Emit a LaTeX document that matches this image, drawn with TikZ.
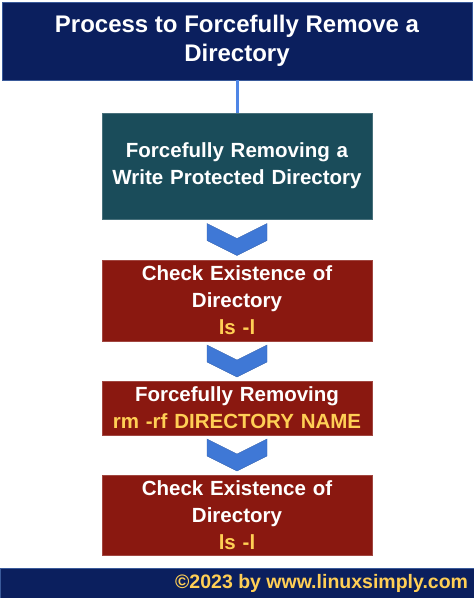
\documentclass[tikz,border=0pt]{standalone}
\usepackage{fontspec}
\setmainfont{Liberation Sans}
\usetikzlibrary{calc, positioning}
\definecolor{navy}{HTML}{0B1F5E}
\definecolor{navyedge}{HTML}{3A5A9A}
\definecolor{tealbox}{HTML}{1A4C5A}
\definecolor{redbox}{HTML}{8A1810}
\definecolor{cmdgold}{HTML}{FFCF55}
\definecolor{chevblue}{HTML}{3F78D6}
\definecolor{lineblue}{HTML}{4F86E6}
\newcommand{\cmd}[1]{\textcolor{cmdgold}{#1}}

\begin{document}
\begin{tikzpicture}
		[x=1pt, y=-1pt,
		 stepbox/.style={rectangle, draw=#1!80!white, fill=#1, text=white, text width=262pt, align=center, minimum width=270pt, inner sep=0pt, font=\bfseries\fontsize{20.5}{27}\selectfont},
		 banner/.style={rectangle, draw=navyedge, fill=navy, inner sep=0pt},
		 chevron/.style={fill=chevblue, draw=chevblue!80!black, line width=.4pt}]
		\useasboundingbox (0,0) rectangle (474,598);
		% nodes %
		\node[banner, minimum width=470pt, minimum height=78pt, text=white, align=center, font=\bfseries\fontsize{24}{29}\selectfont] (title) at (237,41) {Process to Forcefully Remove a\\Directory};
		\node[stepbox=tealbox, minimum height=106pt] (rmwp) at (237,166) {Forcefully Removing a\\Write Protected Directory};
		\node[stepbox=redbox, minimum height=81pt] (chka) at (237,300.5) {Check Existence of\\Directory\\\cmd{ls -l}};
		\node[stepbox=redbox, minimum height=54pt] (rmdir) at (237,408) {Forcefully Removing\\\cmd{rm -rf DIRECTORY NAME}};
		\node[stepbox=redbox, minimum height=80pt] (chkb) at (237,515) {Check Existence of\\Directory\\\cmd{ls -l}};
		\node[banner, minimum width=474pt, minimum height=30pt] (footer) at (237,583) {};
		\node[anchor=east, text=cmdgold, inner sep=0pt, font=\bfseries\fontsize{19.5}{22}\selectfont] (copy) at ($(footer.east)+(-6,0)$) {©2023 by www.linuxsimply.com};

		% edges %
		\draw[lineblue, line width=3pt] (title) -- (rmwp);
		\foreach \a/\b in {rmwp/chka, chka/rmdir, rmdir/chkb}
			\draw[chevron] ($(\a.south)!.5!(\b.north)$) ++(-30,-16) -- ++(30,15) -- ++(30,-15) -- ++(0,17) -- ++(-30,15) -- ++(-30,-15) -- cycle;
		\end{tikzpicture}
\end{document}
